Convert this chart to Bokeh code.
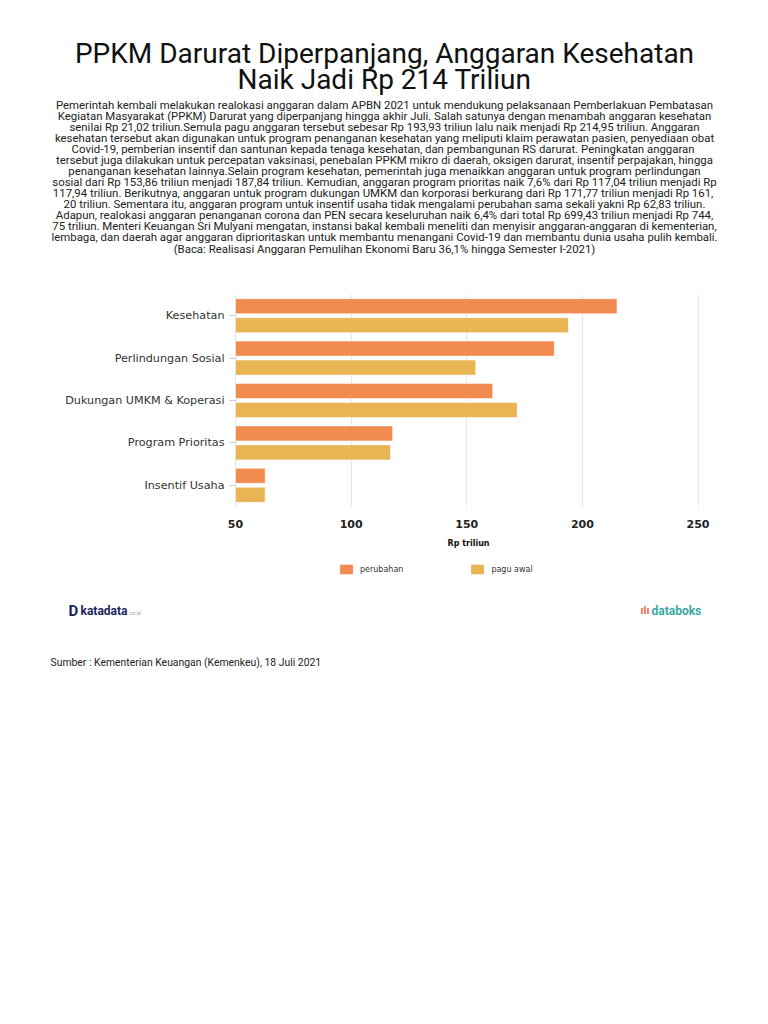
from bokeh.plotting import figure
from bokeh.models import ColumnDataSource, Range1d, FactorRange, FixedTicker, Legend, LegendItem
from bokeh.transform import dodge
from bokeh.layouts import column
from bokeh.embed import file_html
from bokeh.resources import INLINE
from bokeh.core.properties import value

# ---------------- data ----------------
categories = ["Kesehatan", "Perlindungan Sosial", "Dukungan UMKM & Koperasi",
              "Program Prioritas", "Insentif Usaha"]
perubahan = [214.95, 187.84, 161.20, 117.94, 62.83]
pagu_awal = [193.93, 153.86, 171.77, 117.04, 62.83]
x_ticks = [50, 100, 150, 200, 250]
series_names = ["perubahan", "pagu awal"]
series_colors = ["#F28B50", "#E8B454"]

title_lines = ["PPKM Darurat Diperpanjang, Anggaran Kesehatan",
               "Naik Jadi Rp 214 Triliun"]
paragraph_lines = [
    "Pemerintah kembali melakukan realokasi anggaran dalam APBN 2021 untuk mendukung pelaksanaan Pemberlakuan Pembatasan",
    "Kegiatan Masyarakat (PPKM) Darurat yang diperpanjang hingga akhir Juli. Salah satunya dengan menambah anggaran kesehatan",
    "senilai Rp 21,02 triliun.Semula pagu anggaran tersebut sebesar Rp 193,93 triliun lalu naik menjadi Rp 214,95 triliun. Anggaran",
    "kesehatan tersebut akan digunakan untuk program penanganan kesehatan yang meliputi klaim perawatan pasien, penyediaan obat",
    "Covid-19, pemberian insentif dan santunan kepada tenaga kesehatan, dan pembangunan RS darurat.  Peningkatan anggaran",
    "tersebut juga dilakukan untuk percepatan vaksinasi, penebalan PPKM mikro di daerah, oksigen darurat, insentif perpajakan, hingga",
    "penanganan kesehatan lainnya.Selain program kesehatan, pemerintah juga menaikkan anggaran untuk program perlindungan",
    "sosial dari Rp 153,86 triliun menjadi 187,84 triliun. Kemudian, anggaran program prioritas naik 7,6% dari Rp 117,04 triliun menjadi Rp",
    "117,94 triliun.  Berikutnya, anggaran untuk program dukungan UMKM dan korporasi berkurang dari Rp 171,77 triliun menjadi Rp 161,",
    "20 triliun. Sementara itu, anggaran program untuk insentif usaha tidak mengalami perubahan sama sekali yakni Rp 62,83 triliun.",
    "Adapun, realokasi anggaran penanganan corona dan PEN secara keseluruhan naik 6,4% dari total Rp 699,43 triliun menjadi Rp 744,",
    "75 triliun. Menteri Keuangan Sri Mulyani mengatan, instansi bakal kembali meneliti dan menyisir anggaran-anggaran di kementerian,",
    "lembaga, dan daerah agar anggaran diprioritaskan untuk membantu menangani Covid-19 dan membantu dunia usaha pulih kembali.",
    "(Baca: Realisasi Anggaran Pemulihan Ekonomi Baru 36,1% hingga Semester I-2021)",
]
source_text = "Sumber : Kementerian Keuangan (Kemenkeu), 18 Juli 2021"
x_axis_label = "Rp triliun"

W = 768
H1 = 286            # header: page y 0..286
H2 = 264            # chart:  page y 286..550
H3 = 1024 - H1 - H2 # footer: page y 550..1024


def blank(h):
    f = figure(width=W, height=h, x_range=Range1d(0, W), y_range=Range1d(h, 0),
               x_axis_type=None, y_axis_type=None, output_backend="svg",
               toolbar_location=None, min_border=0, outline_line_color=None,
               frame_align=False)
    f.grid.visible = False
    return f


# ---------------- header ----------------
hdr = blank(H1)
hdr.text(x=[384, 384], y=[53, 79], text=title_lines, text_font=value("Roboto"),
         text_font_size="28px", text_align="center", text_baseline="middle",
         text_color="#111111")
step = 11.08
hdr.text(x=[384] * len(paragraph_lines),
         y=[104 + i * step for i in range(len(paragraph_lines))],
         text=paragraph_lines, text_font=value("Roboto"), text_font_size="11.4px",
         text_align="center", text_baseline="middle", text_color="#222222")

# ---------------- chart ----------------
src = ColumnDataSource(dict(cat=categories, perubahan=perubahan, pagu=pagu_awal))
p = figure(width=W, height=H2, y_range=FactorRange(*reversed(categories)),
           x_range=Range1d(50, 251.5), output_backend="svg", toolbar_location=None,
           min_border_left=235, min_border_right=67, min_border_top=8,
           min_border_bottom=44, outline_line_color=None, frame_align=False)
r1 = p.hbar(y=dodge("cat", 0.224, range=p.y_range), left=0, right="perubahan",
            height=0.354, source=src, fill_color=series_colors[0],
            line_color="white", line_alpha=0.5)
r2 = p.hbar(y=dodge("cat", -0.224, range=p.y_range), left=0, right="pagu",
            height=0.354, source=src, fill_color=series_colors[1],
            line_color="white", line_alpha=0.5)

p.ygrid.visible = False
p.xgrid.grid_line_color = "#e6e6e6"
p.xaxis.ticker = FixedTicker(ticks=x_ticks)
p.xaxis.axis_line_color = None
p.xaxis.major_tick_line_color = None
p.xaxis.minor_tick_line_color = None
p.xaxis.major_label_text_font = "DejaVu Sans"
p.xaxis.major_label_text_font_size = "11px"
p.xaxis.major_label_text_font_style = "bold"
p.xaxis.major_label_text_color = "#222222"
p.xaxis.major_label_standoff = 7
p.xaxis.axis_label = x_axis_label
p.xaxis.axis_label_text_font = "DejaVu Sans"
p.xaxis.axis_label_text_font_size = "8px"
p.xaxis.axis_label_text_font_style = "bold"
p.xaxis.axis_label_text_color = "#111111"
p.xaxis.axis_label_standoff = 8

p.yaxis.axis_line_color = "#e6e6e6"
p.yaxis.major_tick_line_color = "#cccccc"
p.yaxis.major_tick_out = 6
p.yaxis.major_tick_in = 0
p.yaxis.major_label_standoff = 5
p.yaxis.major_label_text_font = "DejaVu Sans"
p.yaxis.major_label_text_font_size = "11.2px"
p.yaxis.major_label_text_color = "#333333"

# ---------------- footer ----------------
ftr = blank(H3)
# hidden proxies of the two bar series, only used to draw the legend swatches
l1 = ftr.hbar(y=0, left=0, right="perubahan", height=1, source=src,
              fill_color=series_colors[0], line_color=None, visible=False)
l2 = ftr.hbar(y=0, left=0, right="pagu", height=1, source=src,
              fill_color=series_colors[1], line_color=None, visible=False)
legend = Legend(items=[LegendItem(label=series_names[0], renderers=[l1]),
                       LegendItem(label=series_names[1], renderers=[l2])],
                orientation="horizontal", location=(338, H3 - 25),
                glyph_width=16, glyph_height=12, label_standoff=6, spacing=66,
                label_text_font="DejaVu Sans", label_text_font_size="8px",
                label_text_color="#333333", border_line_color=None,
                background_fill_alpha=0, padding=2, margin=0,
                click_policy="none")
ftr.add_layout(legend)

ftr.text(x=[68], y=[60], text=["D"], text_font=value("Roboto"), text_font_size="15px",
         text_font_style="bold", text_color="#1c2559", text_baseline="middle")
ftr.text(x=[80], y=[60], text=["katadata"], text_font=value("Roboto"),
         text_font_size="12px", text_font_style="bold", text_color="#1c2559",
         text_baseline="middle")
ftr.text(x=[128], y=[62], text=[".co.id"], text_font=value("Roboto"),
         text_font_size="5px", text_color="#999999", text_baseline="middle")
ftr.text(x=[640], y=[60], text=["ılı"], text_font=value("Roboto"),
         text_font_size="11px", text_font_style="bold", text_color="#ef6b4a",
         text_baseline="middle")
ftr.text(x=[651], y=[60], text=["databoks"], text_font=value("Roboto"),
         text_font_size="12px", text_font_style="bold", text_color="#3aa8a3",
         text_baseline="middle")
ftr.text(x=[50], y=[112], text=[source_text], text_font=value("Roboto"),
         text_font_size="10.4px", text_color="#222222", text_baseline="middle")

layout = column(hdr, p, ftr, spacing=0)
open("out.html", "w").write(file_html(layout, INLINE))
